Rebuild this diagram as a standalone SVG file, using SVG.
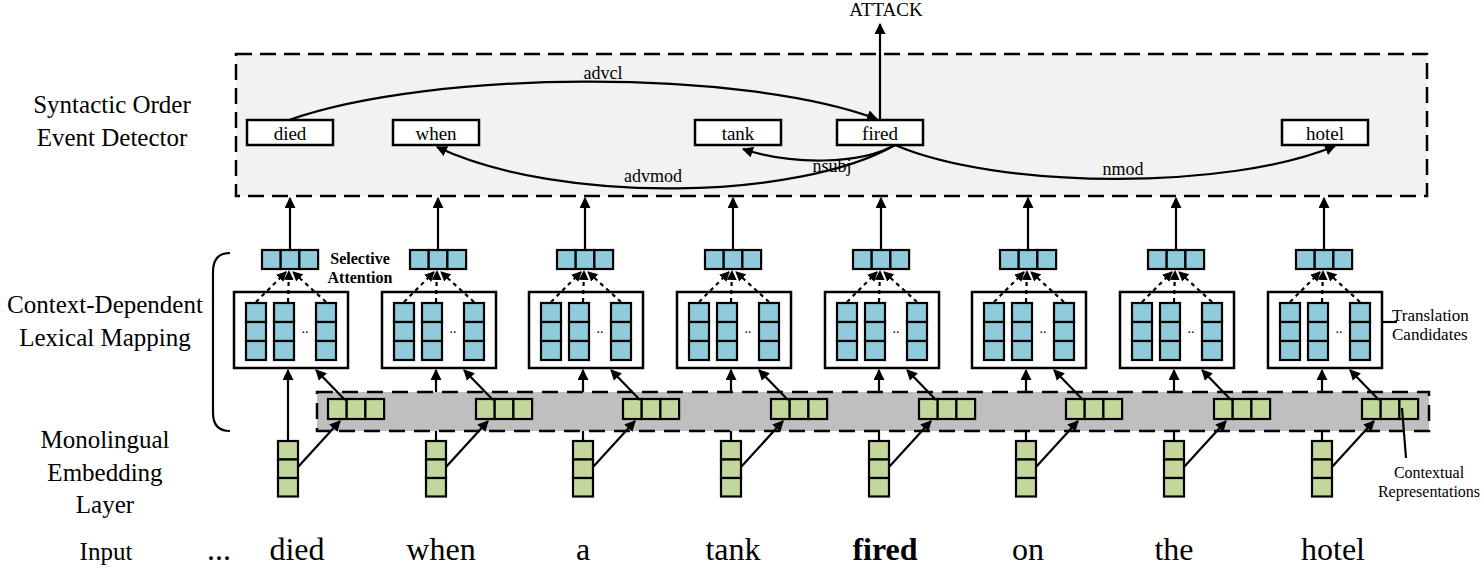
<svg xmlns="http://www.w3.org/2000/svg" xmlns:xlink="http://www.w3.org/1999/xlink" width="1484" height="568" viewBox="0 0 1484 568">
<style>
.t{font-family:"Liberation Serif","Times New Roman",serif;fill:#000}
.lab{font-size:25px;text-anchor:middle}
.word{font-size:32px;text-anchor:middle}
.wb{font-size:19px;text-anchor:middle}
.el{font-size:18px;text-anchor:middle}
.sm{font-size:17px}
.ln{stroke:#000;stroke-width:2.2;fill:none}
.dl{stroke:#000;stroke-width:2.2;fill:none;stroke-dasharray:4 4}
.blue{fill:#8fcbdb;stroke:#000;stroke-width:2.2}
.green{fill:#c3d69b;stroke:#000;stroke-width:2.2}
.box{fill:#fff;stroke:#000;stroke-width:2.5}
</style>
<defs>
<marker id="ah" viewBox="0 0 10 10" refX="9" refY="5" markerWidth="11" markerHeight="11" markerUnits="userSpaceOnUse" orient="auto"><path d="M0,0 L10,5 L0,10 z" fill="#000"/></marker>
<marker id="ahs" viewBox="0 0 10 10" refX="9" refY="5" markerWidth="10" markerHeight="10" markerUnits="userSpaceOnUse" orient="auto"><path d="M0,0 L10,5 L0,10 z" fill="#000"/></marker>
<g id="tvec">
<rect class="blue" x="-28" y="250" width="18.7" height="19"/>
<rect class="blue" x="-9.3" y="250" width="18.7" height="19"/>
<rect class="blue" x="9.4" y="250" width="18.7" height="19"/>
</g>
<g id="cand">
<rect class="box" x="-56" y="292" width="114" height="76"/>
<rect class="blue" x="-44" y="303" width="20" height="19"/>
<rect class="blue" x="-44" y="322" width="20" height="19"/>
<rect class="blue" x="-44" y="341" width="20" height="19"/>
<rect class="blue" x="-16" y="303" width="20" height="19"/>
<rect class="blue" x="-16" y="322" width="20" height="19"/>
<rect class="blue" x="-16" y="341" width="20" height="19"/>
<rect class="blue" x="26" y="303" width="20" height="19"/>
<rect class="blue" x="26" y="322" width="20" height="19"/>
<rect class="blue" x="26" y="341" width="20" height="19"/>
<text class="t" x="15" y="333" font-size="14" text-anchor="middle">..</text>
</g>
<g id="emb">
<rect class="green" x="-12" y="441" width="20" height="18.5"/>
<rect class="green" x="-12" y="459.5" width="20" height="18.5"/>
<rect class="green" x="-12" y="478" width="20" height="18.5"/>
</g>
<g id="ctx">
<rect class="green" x="38" y="399" width="18.7" height="20"/>
<rect class="green" x="56.7" y="399" width="18.7" height="20"/>
<rect class="green" x="75.4" y="399" width="18.7" height="20"/>
</g>
<g id="carr">
<line class="ln" x1="0" y1="250" x2="0" y2="198" marker-end="url(#ah)"/>
<line class="dl" x1="-34" y1="302" x2="-4" y2="272" marker-end="url(#ahs)"/>
<line class="dl" x1="-2" y1="302" x2="-1" y2="271" marker-end="url(#ahs)"/>
<line class="dl" x1="36" y1="302" x2="3" y2="272" marker-end="url(#ahs)"/>
<line class="ln" x1="55" y1="400" x2="26" y2="370" marker-end="url(#ah)"/>
<line class="ln" x1="8" y1="467" x2="50" y2="421" marker-end="url(#ah)"/>
</g>
<g id="vsplit">
<line class="ln" x1="-2" y1="441" x2="-2" y2="431"/>
<line class="ln" x1="-2" y1="392" x2="-2" y2="370" marker-end="url(#ah)"/>
</g>
</defs>

<g id="event-detector">
<rect x="236" y="54" width="1191" height="142" fill="#f2f2f2" stroke="#000" stroke-width="2.5" stroke-dasharray="16 8"/>
</g>
<g id="w-died"><rect class="box" x="247" y="120" width="86" height="25"/><text class="t wb" x="290" y="140">died</text></g>
<g id="w-when"><rect class="box" x="393" y="120" width="86" height="25"/><text class="t wb" x="436" y="140">when</text></g>
<g id="w-tank"><rect class="box" x="695" y="120" width="86" height="25"/><text class="t wb" x="738" y="140">tank</text></g>
<g id="w-fired"><rect class="box" x="837" y="120" width="86" height="25"/><text class="t wb" x="880" y="140">fired</text></g>
<g id="w-hotel"><rect class="box" x="1282" y="120" width="86" height="25"/><text class="t wb" x="1325" y="140">hotel</text></g>

<g id="ctx-band">
<rect x="317" y="392" width="1112" height="39" fill="#bfbfbf" stroke="#000" stroke-width="2.5" stroke-dasharray="16 9"/>
</g>

<g id="col-died" transform="translate(290,0)"><use href="#tvec"/><use href="#cand"/><use href="#emb"/><use href="#ctx"/></g>
<g id="col-when" transform="translate(438,0)"><use href="#tvec"/><use href="#cand"/><use href="#emb"/><use href="#ctx"/></g>
<g id="col-a" transform="translate(585,0)"><use href="#tvec"/><use href="#cand"/><use href="#emb"/><use href="#ctx"/></g>
<g id="col-tank" transform="translate(733,0)"><use href="#tvec"/><use href="#cand"/><use href="#emb"/><use href="#ctx"/></g>
<g id="col-fired" transform="translate(881,0)"><use href="#tvec"/><use href="#cand"/><use href="#emb"/><use href="#ctx"/></g>
<g id="col-on" transform="translate(1028,0)"><use href="#tvec"/><use href="#cand"/><use href="#emb"/><use href="#ctx"/></g>
<g id="col-the" transform="translate(1176,0)"><use href="#tvec"/><use href="#cand"/><use href="#emb"/><use href="#ctx"/></g>
<g id="col-hotel" transform="translate(1324,0)"><use href="#tvec"/><use href="#cand"/><use href="#emb"/><use href="#ctx"/></g>

<g id="connectors">
<use href="#carr" x="290"/><use href="#carr" x="438"/><use href="#carr" x="585"/><use href="#carr" x="733"/>
<use href="#carr" x="881"/><use href="#carr" x="1028"/><use href="#carr" x="1176"/><use href="#carr" x="1324"/>
<line class="ln" x1="288" y1="441" x2="288" y2="370" marker-end="url(#ah)"/>
<use href="#vsplit" x="438"/><use href="#vsplit" x="585"/><use href="#vsplit" x="733"/>
<use href="#vsplit" x="881"/><use href="#vsplit" x="1028"/><use href="#vsplit" x="1176"/><use href="#vsplit" x="1324"/>
<line class="ln" x1="880" y1="120" x2="880" y2="24" marker-end="url(#ah)"/>
<path class="ln" d="M289,120 C430,70 740,68 877,119" marker-end="url(#ah)"/>
<path class="ln" d="M895,145 C800,200 560,205 437,147" marker-end="url(#ah)"/>
<path class="ln" d="M895,145 C860,165 790,165 743,149" marker-end="url(#ah)"/>
<path class="ln" d="M895,145 C1000,190 1230,190 1335,146" marker-end="url(#ah)"/>
<line class="ln" x1="1382" y1="322" x2="1397" y2="322"/>
<line class="ln" x1="1402" y1="408" x2="1406" y2="458"/>
<path class="ln" d="M230,253 Q213,253 213,272 L213,413 Q213,431 230,431"/>
</g>

<g id="labels">
<text class="t" x="886" y="16" font-size="19" text-anchor="middle">ATTACK</text>
<text class="t el" x="603" y="79">advcl</text>
<text class="t el" x="653" y="182">advmod</text>
<text class="t el" x="832" y="172">nsubj</text>
<text class="t el" x="1123" y="175">nmod</text>
<text class="t" x="360" y="264" font-size="16" font-weight="bold" text-anchor="middle">Selective</text>
<text class="t" x="360" y="283" font-size="16" font-weight="bold" text-anchor="middle">Attention</text>
<text class="t sm" x="1392" y="321">Translation</text>
<text class="t sm" x="1392" y="340">Candidates</text>
<text class="t" x="1429" y="478" font-size="16" text-anchor="middle">Contextual</text>
<text class="t" x="1429" y="497" font-size="16" text-anchor="middle">Representations</text>
<text class="t lab" x="112" y="113">Syntactic Order</text>
<text class="t lab" x="112" y="146">Event Detector</text>
<text class="t lab" x="105" y="313">Context-Dependent</text>
<text class="t lab" x="105" y="346">Lexical Mapping</text>
<text class="t lab" x="105" y="448">Monolingual</text>
<text class="t lab" x="105" y="481">Embedding</text>
<text class="t lab" x="105" y="513">Layer</text>
<text class="t lab" x="106" y="560">Input</text>
<text class="t word" x="219" y="560">...</text>
<text class="t word" x="297" y="560">died</text>
<text class="t word" x="441" y="560">when</text>
<text class="t word" x="583" y="560">a</text>
<text class="t word" x="733" y="560">tank</text>
<text class="t word" x="885" y="560" font-weight="bold">fired</text>
<text class="t word" x="1028" y="560">on</text>
<text class="t word" x="1174" y="560">the</text>
<text class="t word" x="1333" y="560">hotel</text>
</g>
</svg>
